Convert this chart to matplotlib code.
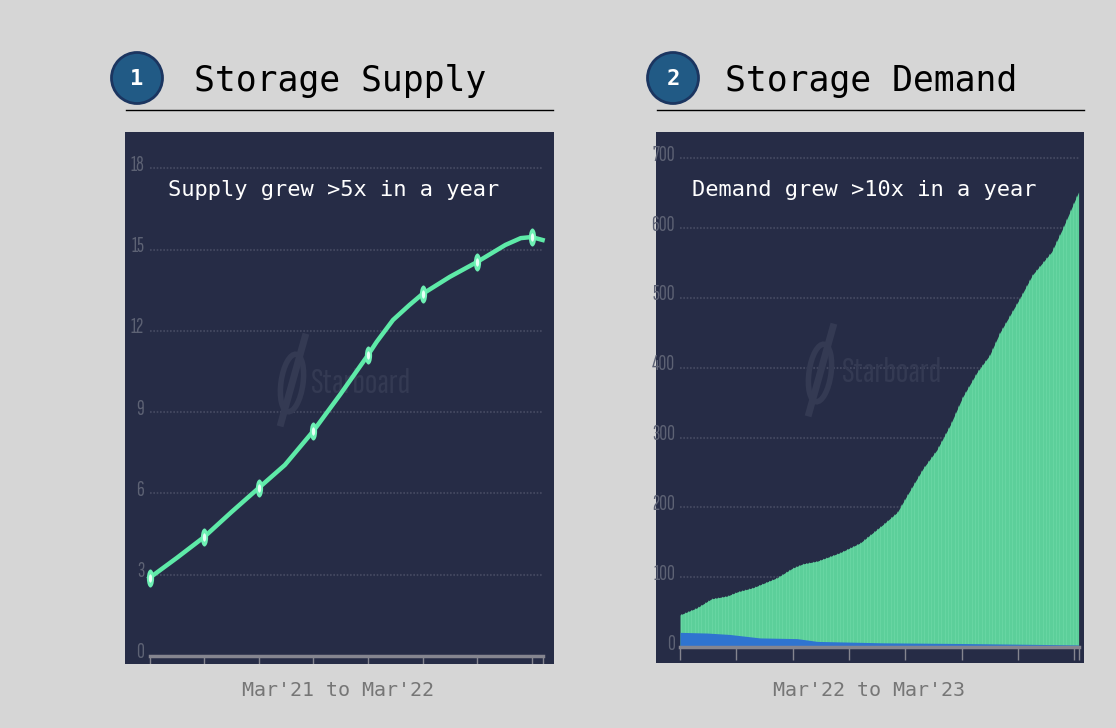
import logging
import matplotlib
matplotlib.use('Agg')
import matplotlib.pyplot as plt
from matplotlib.path import Path
from matplotlib.patches import Circle, Ellipse
from matplotlib.transforms import Affine2D

logging.getLogger('matplotlib.font_manager').setLevel(logging.ERROR)

W, H = 1116, 728
BG = '#d6d6d6'
DARK = '#262c46'
MARK = '#343a53'
MONO = 'DejaVu Sans Mono'
NARROW = ['Sofia Sans Extra Condensed', 'Open Sans Condensed', 'Liberation Sans']

# Storage supply, days since Mar'21
supply_days = [0, 25, 50, 75, 100, 124, 150, 175, 200, 208, 223, 238, 250, 275, 300, 326, 340, 350, 360]
supply_vals = [2.88, 3.62, 4.39, 5.31, 6.2, 7.05, 8.3, 9.67, 11.1, 11.59, 12.4, 12.95, 13.36, 13.99, 14.54, 15.17, 15.42, 15.46, 15.35]
supply_marker_days = [0, 50, 100, 150, 200, 250, 300, 350]
supply_marker_vals = [2.88, 4.39, 6.2, 8.3, 11.1, 13.36, 14.54, 15.46]
supply_yticks = [0, 3, 6, 9, 12, 15, 18]

# Storage demand, days since Mar'22
demand_days = [0, 15, 28, 42, 51, 65, 86, 100, 109, 122, 142, 160, 180, 193, 202, 216, 228, 240, 251, 264, 275, 284, 302, 313, 330, 340, 354]
demand_vals = [46, 56, 69, 73, 79, 85, 99, 113, 119, 123, 135, 149, 175, 193, 218, 256, 282, 318, 358, 394, 418, 450, 500, 533, 566, 600, 652]
other_days = [0, 24, 44, 71, 104, 122, 180, 251, 354]
other_vals = [21, 20, 18, 13, 12, 8, 6, 5, 3]
demand_yticks = [0, 100, 200, 300, 400, 500, 600, 700]

tick_days = [0, 50, 100, 150, 200, 250, 300, 350]


def px_axes(fig, left, top, right, bottom):
    return fig.add_axes([left / W, 1 - bottom / H, (right - left) / W, (bottom - top) / H])


def panel(fig, rect, x0_px, x_per_day, y0_px, y_per_unit, yticks, end_day, label_px):
    left, top, right, bottom = rect
    ax = px_axes(fig, left, top, right, bottom)
    ax.set_facecolor(DARK)
    ax.set_xlim((left - x0_px) / x_per_day, (right - x0_px) / x_per_day)
    ax.set_ylim((y0_px - bottom) / y_per_unit, (y0_px - top) / y_per_unit)
    ax.set_xticks([])
    ax.set_yticks([])
    for s in ax.spines.values():
        s.set_visible(False)
    for v in yticks[1:]:
        ax.plot([0, end_day], [v, v], color='#41465e', lw=1.5, ls=(0, (0.8, 0.8)), zorder=1)
    label_x = (label_px - x0_px) / x_per_day
    for v in yticks:
        # labels sit a little above their grid line
        ax.text(label_x, v + 3 / y_per_unit, str(v), color='#5d6274', fontsize=15.5, family=NARROW,
                ha='right', va='center', zorder=2)
    return ax


def watermark(ax, cx, cy, tx, ty):
    # drawn in figure pixels, under the data of the panel
    tf = page.transData
    ax.add_patch(Ellipse((cx, cy), 22, 58, angle=8, fill=False, ec=MARK, lw=4, transform=tf, zorder=1.5))
    ax.plot([cx + 13, cx - 11], [cy - 46, cy + 40], color=MARK, lw=5, transform=tf, zorder=1.5)
    ax.text(tx, ty, 'Starboard', color=MARK, fontsize=26.5, family=NARROW, weight='bold',
            ha='left', va='center', transform=tf, zorder=1.5)


def header(num, cx, title, tx, x0, x1, note, nx, caption, capx):
    page.add_patch(Circle((cx, 78), 25.5, fc='#215a85', ec='#1b3560', lw=2))
    page.text(cx, 79, num, color='white', fontsize=16, family=MONO, weight='bold', ha='center', va='center')
    page.text(tx, 81, title, color='black', fontsize=25, family=MONO, ha='left', va='center')
    page.plot([x0, x1], [110, 110], color='black', lw=1)
    page.text(capx, 691, caption, color='#767676', fontsize=14.4, family=MONO, ha='center', va='center')
    page.text(nx, 190, note, color='white', fontsize=15.8, family=MONO, ha='left', va='center', zorder=10)


fig = plt.figure(figsize=(W / 100, H / 100), dpi=100, facecolor=BG)

# page axes in pixels, on top of the panels for the headers and notes
page = fig.add_axes([0, 0, 1, 1])
page.set_xlim(0, W)
page.set_ylim(H, 0)
page.axis('off')
page.set_zorder(5)

# left panel
ax1 = panel(fig, (125, 132, 554, 664), 149.5, 54.6 / 50, 656, 27.1, supply_yticks, 360, 144)
watermark(ax1, 292, 383, 310, 384)
ax1.plot([0, 360], [0, 0], color='#85858f', lw=2.5, zorder=3)
ax1.vlines(tick_days + [360], -0.3, 0, color='#85858f', lw=1, zorder=3)
ax1.plot(supply_days, supply_vals, color='#5eeaa8', lw=3.2, zorder=5)
ell = Path.unit_circle().transformed(Affine2D().scale(0.4, 1))
ax1.plot(supply_marker_days, supply_marker_vals, ls='none', marker=ell, ms=13, color='#6ef0b4', mew=0, zorder=6)
ax1.plot(supply_marker_days, supply_marker_vals, ls='none', marker=ell, ms=6, color='#e6fff5', mew=0, zorder=7)

# right panel
ax2 = panel(fig, (656, 132, 1084, 663), 680, 56.3 / 50, 647, 0.698, demand_yticks, 354, 675)
watermark(ax2, 820, 373, 841, 373)
area = ax2.fill_between(demand_days, demand_vals, color='#5ccf9a', lw=0, zorder=3)
# pale stripes of the bars, cut to the shape of the area
stripes = ax2.vlines(range(1, 354, 3), 0, 700, color='#6cd8a6', lw=0.5, zorder=3.2)
stripes.set_clip_path(area.get_paths()[0], ax2.transData)
ax2.fill_between(other_days, other_vals, color='#2f74d0', lw=0, zorder=4)
ax2.plot([0, 354], [0, 0], color='#85858f', lw=2.5, zorder=5)
ax2.vlines(tick_days + [354], -19, 0, color='#85858f', lw=1, zorder=5)

header('1', 137, 'Storage Supply', 194, 126, 553, 'Supply grew >5x in a year', 168, "Mar'21 to Mar'22", 338)
header('2', 673, 'Storage Demand', 725, 657, 1084, 'Demand grew >10x in a year', 692, "Mar'22 to Mar'23", 869)

fig.savefig('out.png', dpi=100, facecolor=BG)
